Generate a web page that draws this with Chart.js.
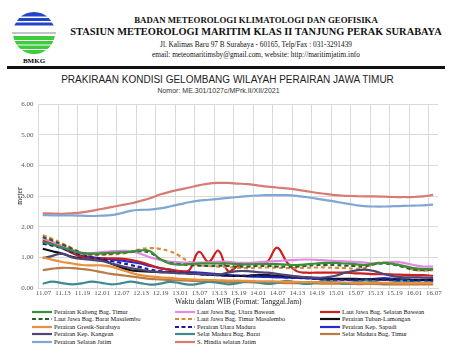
<!DOCTYPE html>
<html>
<head>
<meta charset="utf-8">
<script src="https://cdn.jsdelivr.net/npm/chart.js@4.4.0/dist/chart.umd.min.js"></script>
<style>
html, body { margin: 0; padding: 0; background: #fff; }
body { width: 474px; height: 353px; position: relative; overflow: hidden; font-family: "Liberation Serif", "DejaVu Serif", serif; color: #111; }
.hd { position: absolute; left: 56px; width: 400px; text-align: center; white-space: nowrap; line-height: 1; }
.h1 { top: 16px; font-size: 8.8px; font-weight: bold; }
.h2 { top: 27px; font-size: 10.4px; font-weight: bold; }
.h3 { top: 41px; font-size: 7.3px; }
.h4 { top: 51px; font-size: 7.3px; }
.rule { position: absolute; left: 7px; width: 438px; top: 66px; height: 2.5px; background: #111; }
.ttl { position: absolute; left: 0; width: 455px; text-align: center; font-family: "Liberation Sans", Arial, sans-serif; white-space: nowrap; line-height: 1; }
.t1 { top: 75px; font-size: 10px; color: #222; }
.t2 { top: 87px; font-size: 7px; color: #333; left: 0; width: 437px; }
#wrap { position: absolute; left: 0; top: 95px; width: 474px; height: 212px; }
#legend { position: absolute; left: 32px; top: 308px; display: grid; grid-auto-flow: column; grid-template-rows: repeat(5, 7.5px); grid-template-columns: 143px 145px 130px; }
.li { display: flex; align-items: center; font-size: 6.4px; white-space: nowrap; line-height: 1; }
.li svg { margin-right: 2px; }
</style>
</head>
<body>

<svg style="position:absolute;left:0;top:0" width="70" height="70">
  <defs><clipPath id="c"><circle cx="34" cy="33" r="21"/></clipPath></defs>
  <g clip-path="url(#c)">
    <rect x="10" y="11" width="50" height="5.5" fill="#2244c8"/>
    <rect x="10" y="18" width="50" height="3" fill="#2244c8"/>
    <rect x="10" y="22.5" width="50" height="3" fill="#2244c8"/>
    <rect x="10" y="36" width="50" height="4" fill="#3ccc3c"/>
    <rect x="10" y="41" width="50" height="3.5" fill="#3ccc3c"/>
    <rect x="10" y="45.5" width="50" height="3.5" fill="#3ccc3c"/>
    <rect x="10" y="50" width="50" height="5" fill="#3ccc3c"/>
  </g>
  <rect x="12" y="32.5" width="44" height="1" fill="#888"/>
  <text x="34" y="63" text-anchor="middle" font-family="Liberation Serif" font-weight="bold" font-size="7">BMKG</text>
</svg>

<div class="hd h1">BADAN METEOROLOGI KLIMATOLOGI DAN GEOFISIKA</div>
<div class="hd h2">STASIUN METEOROLOGI MARITIM KLAS II TANJUNG PERAK SURABAYA</div>
<div class="hd h3">Jl. Kalimas Baru 97 B Surabaya - 60165, Telp/Fax : 031-3291439</div>
<div class="hd h4">email: meteomaritimsby@gmail.com, website: http://maritimjatim.info</div>
<div class="rule"></div>
<div class="ttl t1">PRAKIRAAN KONDISI GELOMBANG WILAYAH PERAIRAN JAWA TIMUR</div>
<div class="ttl t2">Nomor: ME.301/1027c/MPrk.II/XII/2021</div>

<div id="wrap"><canvas id="chart"></canvas></div>
<div id="legend"></div>

<script>
// tinggi gelombang (meter), data tiap 3 jam mulai 11.07 s/d 16.07
var STEP_JAM = 3;
var TICK_LABELS = ['11.07', '11.13', '11.19', '12.01', '12.07', '12.13', '12.19', '13.01', '13.07', '13.13', '13.19',
  '14.01', '14.07', '14.13', '14.19', '15.01', '15.07', '15.13', '15.19', '16.01', '16.07'];

var KALTENG_TIMUR = [1.50, 1.42, 1.32, 1.22, 1.14, 1.12, 1.13, 1.15, 1.16, 1.18, 1.23, 1.20, 0.95, 0.80, 0.76, 0.78, 0.80, 0.80, 0.80, 0.80,
  0.78, 0.77, 0.78, 0.78, 0.78, 0.76, 0.75, 0.77, 0.80, 0.82, 0.82, 0.80, 0.78, 0.75, 0.80, 0.82, 0.78, 0.72, 0.65, 0.62, 0.62];
var BARAT_MASALEMBO = [1.66, 1.55, 1.42, 1.28, 1.15, 1.10, 1.10, 1.12, 1.15, 1.17, 1.20, 1.15, 0.95, 0.82, 0.78, 0.75, 0.73, 0.72, 0.73, 0.72,
  0.70, 0.70, 0.72, 0.72, 0.70, 0.70, 0.70, 0.72, 0.75, 0.75, 0.75, 0.73, 0.72, 0.70, 0.78, 0.80, 0.76, 0.68, 0.60, 0.58, 0.60];
var GRESIK_SURABAYA = [1.00, 0.92, 0.85, 0.80, 0.75, 0.74, 0.74, 0.70, 0.60, 0.50, 0.42, 0.38, 0.35, 0.33, 0.30, 0.28, 0.27, 0.26, 0.25, 0.24,
  0.24, 0.23, 0.22, 0.22, 0.21, 0.20, 0.20, 0.19, 0.19, 0.18, 0.18, 0.18, 0.17, 0.17, 0.17, 0.17, 0.16, 0.16, 0.16, 0.16, 0.16];
var KEP_KANGEAN = [0.97, 1.05, 1.12, 1.00, 0.95, 0.92, 0.88, 0.80, 0.72, 0.65, 0.60, 0.55, 0.52, 0.50, 0.48, 0.47, 0.46, 0.45, 0.44, 0.50,
  0.55, 0.55, 0.52, 0.50, 0.46, 0.42, 0.38, 0.35, 0.33, 0.35, 0.40, 0.50, 0.57, 0.60, 0.55, 0.45, 0.38, 0.35, 0.35, 0.34, 0.33];
var SELATAN_JATIM = [2.38, 2.37, 2.37, 2.37, 2.36, 2.35, 2.36, 2.38, 2.44, 2.52, 2.55, 2.56, 2.60, 2.66, 2.73, 2.80, 2.85, 2.88, 2.91, 2.94,
  2.97, 3.00, 3.02, 3.03, 3.03, 3.03, 3.01, 2.97, 2.92, 2.87, 2.82, 2.76, 2.71, 2.67, 2.66, 2.66, 2.67, 2.68, 2.69, 2.70, 2.72];
var UTARA_BAWEAN = [1.62, 1.50, 1.38, 1.25, 1.15, 1.14, 1.17, 1.20, 1.21, 1.20, 1.12, 1.00, 0.92, 0.86, 0.84, 0.83, 0.83, 0.84, 0.86, 0.85,
  0.82, 0.82, 0.84, 0.86, 0.88, 0.90, 0.92, 0.93, 0.92, 0.90, 0.88, 0.87, 0.85, 0.83, 0.80, 0.82, 0.85, 0.82, 0.75, 0.70, 0.70];
var TIMUR_MASALEMBO = [1.72, 1.60, 1.45, 1.30, 1.12, 1.08, 1.08, 1.10, 1.12, 1.18, 1.27, 1.30, 1.28, 1.20, 1.05, 0.85, 0.75, 0.72, 0.70, 0.68,
  0.66, 0.65, 0.66, 0.67, 0.66, 0.65, 0.65, 0.66, 0.67, 0.67, 0.66, 0.65, 0.63, 0.65, 0.80, 0.83, 0.80, 0.70, 0.60, 0.57, 0.58];
var UTARA_MADURA = [1.45, 1.38, 1.30, 1.18, 1.08, 1.00, 0.95, 0.88, 0.82, 0.75, 0.68, 0.60, 0.55, 0.52, 0.50, 0.48, 0.45, 0.43, 0.42, 0.40,
  0.40, 0.40, 0.40, 0.38, 0.37, 0.35, 0.33, 0.32, 0.30, 0.28, 0.27, 0.27, 0.27, 0.28, 0.28, 0.27, 0.26, 0.25, 0.25, 0.25, 0.25];
var MADURA_BARAT = [0.14, 0.21, 0.16, 0.12, 0.15, 0.21, 0.17, 0.12, 0.15, 0.21, 0.16, 0.11, 0.14, 0.20, 0.16, 0.11, 0.14, 0.20, 0.17, 0.12,
  0.16, 0.22, 0.18, 0.13, 0.17, 0.23, 0.18, 0.13, 0.18, 0.24, 0.19, 0.14, 0.19, 0.25, 0.20, 0.15, 0.19, 0.25, 0.20, 0.16, 0.20];
var HINDIA_JATIM = [2.44, 2.43, 2.42, 2.44, 2.47, 2.52, 2.58, 2.64, 2.70, 2.76, 2.84, 2.93, 3.05, 3.14, 3.21, 3.28, 3.35, 3.41, 3.43, 3.43,
  3.41, 3.39, 3.35, 3.31, 3.28, 3.25, 3.21, 3.16, 3.11, 3.07, 3.03, 3.01, 3.00, 2.99, 2.99, 2.98, 2.97, 2.97, 2.97, 2.99, 3.04];
var SELATAN_BAWEAN = [1.55, 1.45, 1.32, 1.15, 1.02, 0.98, 0.97, 0.97, 0.96, 0.92, 0.85, 0.75, 0.65, 0.60, 0.55, 0.58, 1.18, 0.85, 1.22, 0.55,
  0.72, 0.80, 0.80, 0.85, 1.32, 0.85, 0.55, 0.50, 0.50, 0.50, 0.50, 0.50, 0.48, 0.47, 0.45, 0.45, 0.44, 0.43, 0.42, 0.42, 0.40];
var TUBAN_LAMONGAN = [1.28, 1.20, 1.12, 1.02, 0.98, 0.97, 0.95, 0.80, 0.68, 0.58, 0.55, 0.53, 0.52, 0.52, 0.50, 0.48, 0.45, 0.43, 0.42, 0.40,
  0.40, 0.40, 0.42, 0.42, 0.40, 0.38, 0.36, 0.35, 0.33, 0.32, 0.30, 0.30, 0.30, 0.28, 0.28, 0.27, 0.27, 0.27, 0.26, 0.26, 0.26];
var KEP_SAPUDI = [1.50, 1.42, 1.30, 1.15, 1.05, 1.00, 0.97, 0.93, 0.90, 0.85, 0.80, 0.72, 0.65, 0.60, 0.55, 0.52, 0.50, 0.48, 0.45, 0.42,
  0.40, 0.38, 0.37, 0.36, 0.35, 0.34, 0.33, 0.32, 0.30, 0.30, 0.28, 0.27, 0.26, 0.27, 0.30, 0.32, 0.30, 0.28, 0.27, 0.27, 0.28];
var MADURA_TIMUR = [0.58, 0.63, 0.66, 0.65, 0.62, 0.58, 0.52, 0.46, 0.42, 0.38, 0.34, 0.30, 0.28, 0.26, 0.25, 0.24, 0.22, 0.20, 0.20, 0.20,
  0.19, 0.19, 0.18, 0.18, 0.17, 0.16, 0.16, 0.15, 0.15, 0.14, 0.14, 0.14, 0.13, 0.13, 0.13, 0.12, 0.12, 0.12, 0.12, 0.12, 0.12];

// urutan = urutan legenda (per kolom)
var SERIES = [
  { name: 'Perairan Kalteng Bag. Timur', data: KALTENG_TIMUR, color: '#3b8f3b', dash: [] },
  { name: 'Laut Jawa Bag. Barat Masalembo', data: BARAT_MASALEMBO, color: '#2c5e2c', dash: [4, 3] },
  { name: 'Perairan Gresik-Surabaya', data: GRESIK_SURABAYA, color: '#e8903a', dash: [] },
  { name: 'Perairan Kep. Kangean', data: KEP_KANGEAN, color: '#4f4672', dash: [] },
  { name: 'Perairan Selatan Jatim', data: SELATAN_JATIM, color: '#7fa6d4', dash: [] },
  { name: 'Laut Jawa Bag. Utara Bawean', data: UTARA_BAWEAN, color: '#e488e4', dash: [] },
  { name: 'Laut Jawa Bag. Timur Masalembo', data: TIMUR_MASALEMBO, color: '#d98a3c', dash: [4, 3] },
  { name: 'Perairan Utara Madura', data: UTARA_MADURA, color: '#1c1ca0', dash: [4, 3] },
  { name: 'Selat Madura Bag. Barat', data: MADURA_BARAT, color: '#3f8a8e', dash: [] },
  { name: 'S. Hindia selatan Jatim', data: HINDIA_JATIM, color: '#d67c74', dash: [] },
  { name: 'Laut Jawa Bag. Selatan Bawean', data: SELATAN_BAWEAN, color: '#cc1f1f', dash: [] },
  { name: 'Perairan Tuban-Lamongan', data: TUBAN_LAMONGAN, color: '#111111', dash: [] },
  { name: 'Perairan Kep. Sapudi', data: KEP_SAPUDI, color: '#2a2ad2', dash: [] },
  { name: 'Selat Madura Bag. Timur', data: MADURA_TIMUR, color: '#b97a45', dash: [] }
];

var datasets = SERIES.map(function (s) {
  return {
    label: s.name,
    data: s.data.map(function (v, i) { return { x: i * STEP_JAM, y: v }; }),
    borderColor: s.color,
    backgroundColor: s.color,
    borderDash: s.dash,
    borderWidth: 2.2,
    pointRadius: 0,
    tension: 0.4,
    fill: false
  };
});

var AXIS_FONT = { family: '"Liberation Serif", serif', size: 7 };
var GRID = '#d9d9d9';

new Chart(document.getElementById('chart'), {
  type: 'line',
  data: { datasets: datasets },
  options: {
    responsive: true,
    maintainAspectRatio: false,
    animation: false,
    layout: { padding: { top: 6, right: 36, left: 0, bottom: 0 } },
    plugins: { legend: { display: false }, tooltip: { enabled: false } },
    scales: {
      x: {
        type: 'linear',
        min: -1.3,
        max: 121.5,
        afterBuildTicks: function (scale) {
          scale.ticks = TICK_LABELS.map(function (l, i) { return { value: i * 6 - 1.3 }; });
        },
        afterFit: function (scale) { scale.height = 19; },
        ticks: {
          autoSkip: false, maxRotation: 0, padding: 1, labelOffset: 5, color: '#555', font: AXIS_FONT,
          callback: function (v, i) { return TICK_LABELS[i]; }
        },
        grid: { color: GRID, drawTicks: false },
        border: { color: GRID },
        title: { display: true, text: 'Waktu dalam WIB (Format: Tanggal.Jam)', color: '#222',
          font: { family: '"Liberation Serif", serif', size: 7.5 }, padding: { top: 0, bottom: 0 } }
      },
      y: {
        min: 0,
        max: 6,
        afterFit: function (scale) { scale.width = 38.5; },
        ticks: { stepSize: 1, padding: 5, color: '#555', font: AXIS_FONT,
          callback: function (v) { return v.toFixed(2); } },
        grid: { color: GRID, drawTicks: false },
        border: { color: GRID },
        title: { display: true, text: 'meter', color: '#222',
          font: { family: '"Liberation Serif", serif', size: 7.5 }, padding: { top: 16, bottom: 0 } }
      }
    }
  }
});

// legenda manual, 3 kolom seperti aslinya
var lg = document.getElementById('legend');
SERIES.forEach(function (s) {
  var item = document.createElement('div');
  item.className = 'li';
  var dash = s.dash.length ? ' stroke-dasharray="4 2.5"' : '';
  item.innerHTML = '<svg width="20" height="4"><line x1="0" y1="2" x2="20" y2="2" stroke="' + s.color +
    '" stroke-width="2.2"' + dash + '/></svg><span>' + s.name + '</span>';
  lg.appendChild(item);
});
</script>
</body>
</html>
